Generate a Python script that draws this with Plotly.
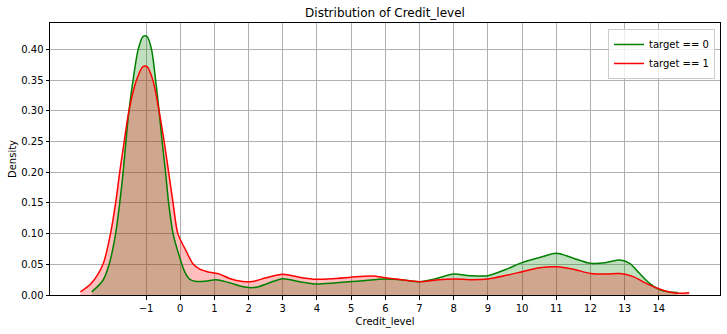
import plotly.graph_objects as go

# target == 0 density curve
x0 = [-2.59, -2.26, -2.08, -1.89, -1.77, -1.67, -1.59, -1.50, -1.38, -1.23, -1.09, -0.97,
      -0.84, -0.72, -0.62, -0.53, -0.43, -0.34, -0.21, -0.02, 0.13, 0.27, 0.47, 0.76, 1.05,
      1.44, 1.93, 2.22, 2.61, 3.0, 3.49, 3.98, 4.56, 5.26, 6.0, 6.53, 7.0, 7.5, 8.0, 8.47,
      9.0, 9.54, 10.0, 10.51, 11.0, 11.5, 12.0, 12.47, 12.86, 13.15, 13.44, 13.73, 14.0,
      14.31, 14.55]
y0 = [0.005, 0.024, 0.05, 0.10, 0.15, 0.20, 0.25, 0.30, 0.35, 0.40, 0.421, 0.421,
      0.40, 0.35, 0.30, 0.25, 0.20, 0.15, 0.10, 0.062, 0.038, 0.026, 0.022, 0.0228, 0.025,
      0.020, 0.0125, 0.0125, 0.020, 0.0266, 0.0217, 0.0179, 0.020, 0.0228, 0.026, 0.0244,
      0.0217, 0.027, 0.034, 0.0315, 0.0315, 0.042, 0.0527, 0.061, 0.068, 0.060, 0.0516,
      0.053, 0.057, 0.0516, 0.035, 0.019, 0.0092, 0.005, 0.004]

# target == 1 density curve
x1 = [-2.92, -2.6, -2.26, -2.04, -1.89, -1.77, -1.64, -1.50, -1.28, -1.09, -0.97, -0.80,
      -0.62, -0.47, -0.34, -0.21, -0.07, 0.17, 0.37, 0.57, 0.86, 1.15, 1.44, 1.83, 2.12,
      2.51, 3.0, 3.49, 3.98, 4.56, 5.26, 5.65, 6.0, 6.53, 7.0, 7.5, 8.0, 8.47, 9.0, 9.54,
      10.0, 10.51, 11.0, 11.5, 12.0, 12.47, 12.86, 13.25, 13.63, 14.0, 14.31, 14.6, 14.89]
y1 = [0.005, 0.019, 0.05, 0.10, 0.15, 0.20, 0.25, 0.30, 0.35, 0.372, 0.372, 0.35,
      0.30, 0.25, 0.20, 0.15, 0.10, 0.072, 0.051, 0.042, 0.037, 0.034, 0.027, 0.022, 0.022,
      0.028, 0.0337, 0.0288, 0.0255, 0.027, 0.030, 0.031, 0.028, 0.0244, 0.0217, 0.0244,
      0.026, 0.025, 0.026, 0.032, 0.038, 0.0445, 0.046, 0.042, 0.035, 0.034, 0.035, 0.030,
      0.019, 0.0103, 0.005, 0.0027, 0.0038]

x_ticks = list(range(-1, 15))
y_ticks = [0.0, 0.05, 0.10, 0.15, 0.20, 0.25, 0.30, 0.35, 0.40]

names = ["target == 0", "target == 1"]
line_colors = ["green", "red"]
fill_colors = ["rgba(0,128,0,0.25)", "rgba(255,0,0,0.25)"]

fig = go.Figure()
# shaded areas first
for xs, ys, nm, fc in zip([x0, x1], [y0, y1], names, fill_colors):
    fig.add_trace(go.Scatter(x=xs, y=ys, mode="lines", name=nm, fill="tozeroy", showlegend=False,
                             fillcolor=fc, line=dict(width=0, shape="spline", smoothing=0.8),
                             hoverinfo="skip"))
# outlines on top
for xs, ys, nm, lc in zip([x0, x1], [y0, y1], names, line_colors):
    fig.add_trace(go.Scatter(x=xs, y=ys, mode="lines", name=nm,
                             line=dict(color=lc, width=1.5, shape="spline", smoothing=0.8)))

font = "DejaVu Sans"
fig.update_layout(
    width=727, height=334,
    margin=dict(l=50, r=7, t=23, b=39),
    paper_bgcolor="white", plot_bgcolor="white",
    font=dict(family=font, size=10, color="black"),
    title=dict(text="Distribution of Credit_level", x=385 / 727, xanchor="center",
               xref="container", y=1 - 13 / 334, yref="container", yanchor="middle",
               font=dict(size=12, family=font)),
    legend=dict(x=0.9925, y=0.978, xanchor="right", yanchor="top",
                bgcolor="rgba(255,255,255,0.8)", bordercolor="#cccccc", borderwidth=1,
                font=dict(size=10, family=font), itemwidth=30, tracegroupgap=0),
    showlegend=True,
)
fig.update_xaxes(range=[-3.81, 15.79], tickvals=x_ticks, ticktext=[str(v).replace("-", "\u2212") for v in x_ticks],
                 showgrid=True, gridcolor="#b0b0b0", gridwidth=0.8, zeroline=False,
                 showline=True, linecolor="black", linewidth=1, mirror=True,
                 ticks="outside", ticklen=3.5, tickcolor="black",
                 title=dict(text="Credit_level", standoff=5, font=dict(size=10)))
fig.update_yaxes(range=[0, 0.443], tickvals=y_ticks, tickformat=".2f",
                 showgrid=True, gridcolor="#b0b0b0", gridwidth=0.8, zeroline=False,
                 showline=True, linecolor="black", linewidth=1, mirror=True,
                 ticks="outside", ticklen=3.5, tickcolor="black",
                 title=dict(text="Density", standoff=2, font=dict(size=10)))

fig.write_html("out.html")
